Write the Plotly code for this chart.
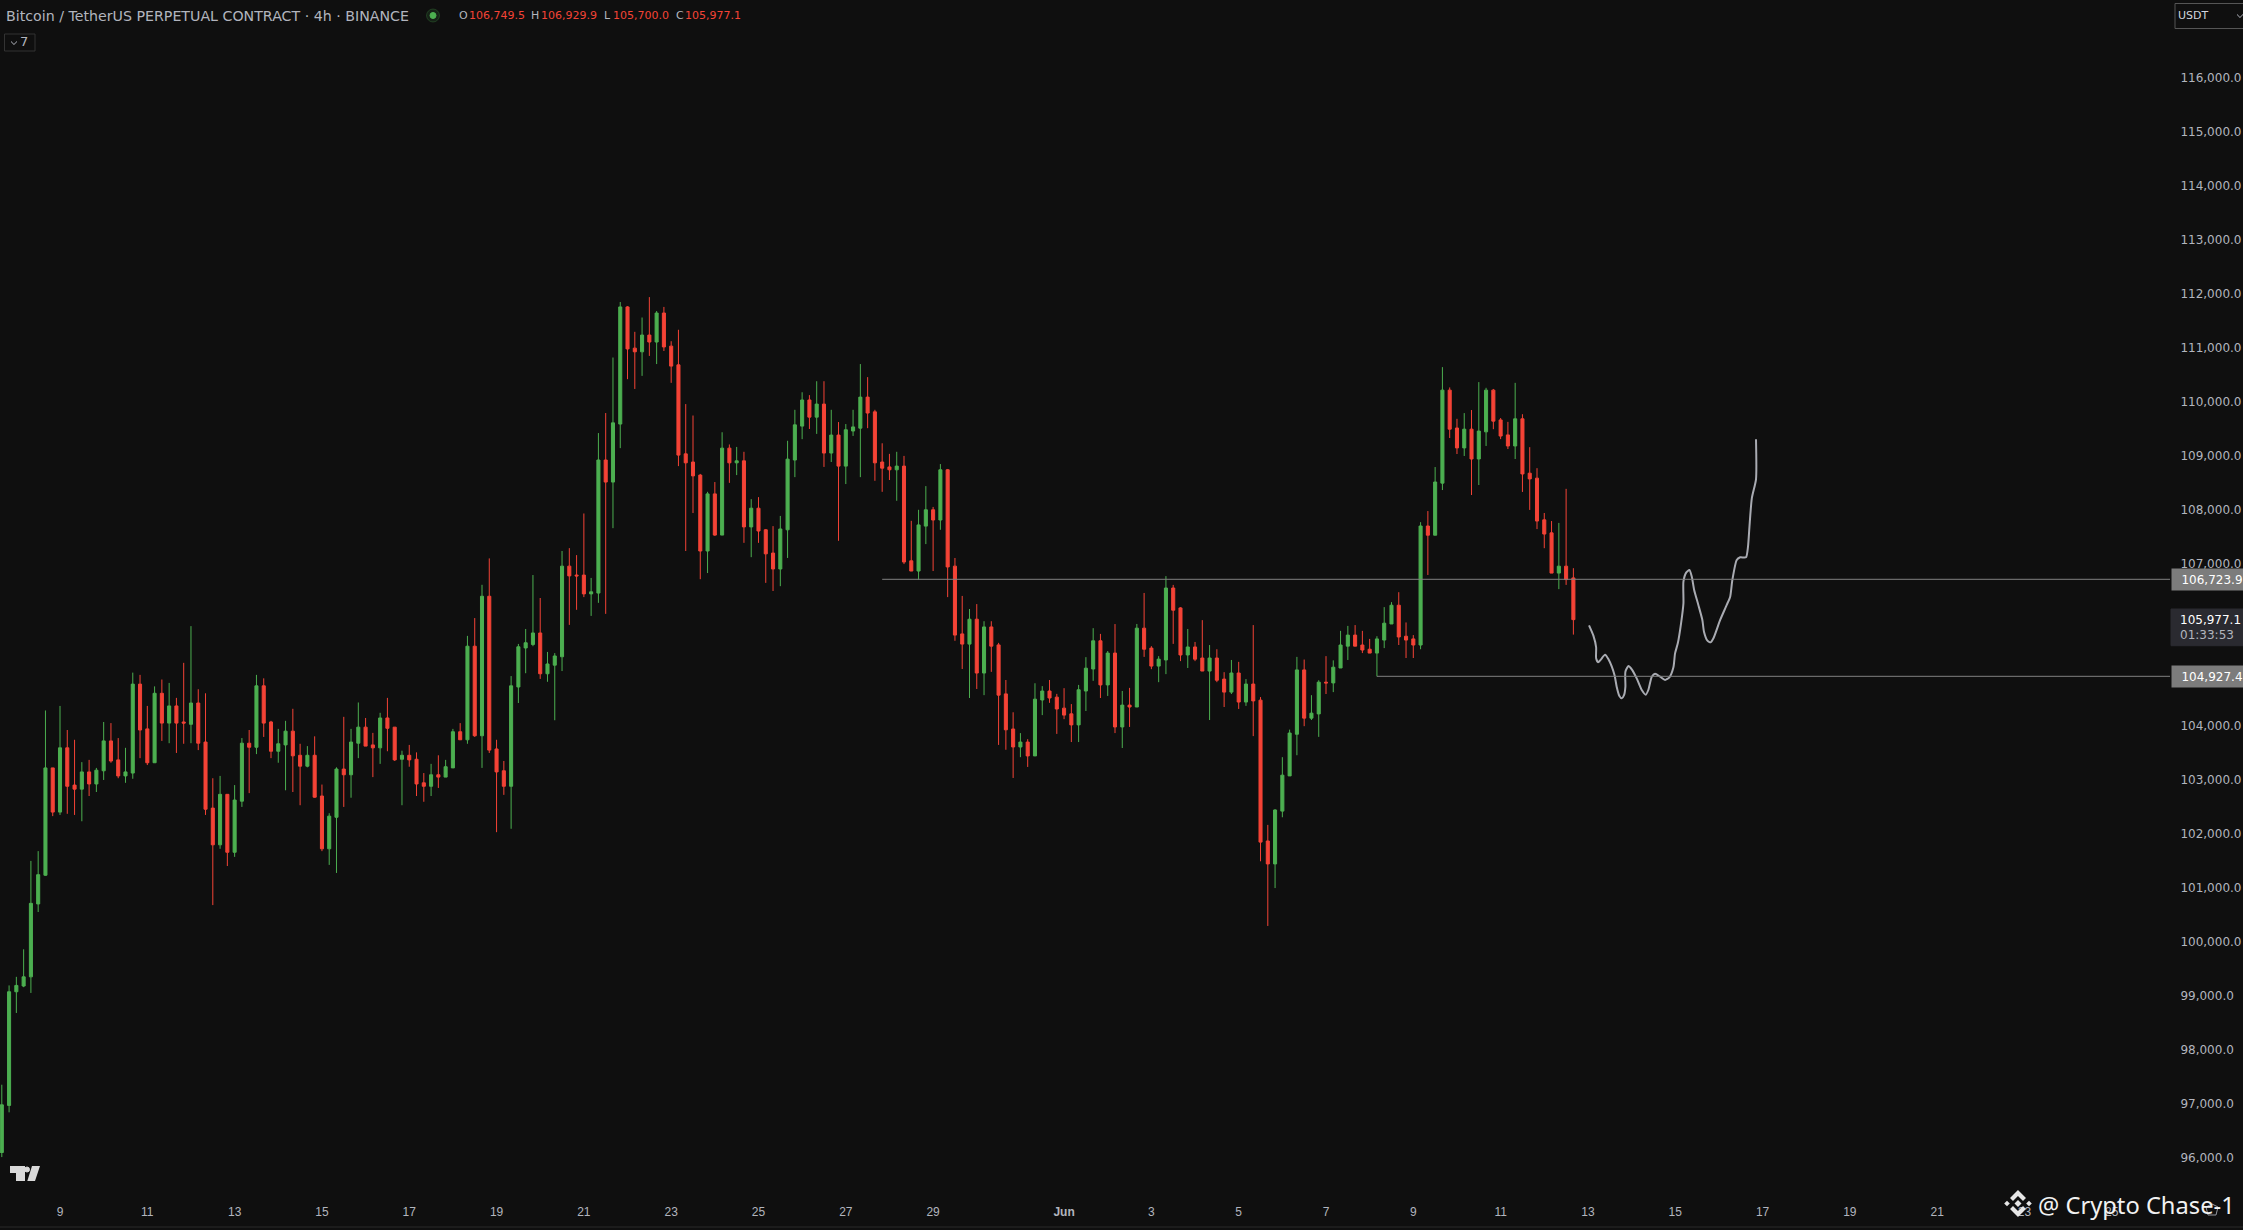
import pandas as pd
import plotly.graph_objects as go

FIRST_CANDLE = "2025-05-07 16:00"

open_ = [96109,96981,99086,99192,99362,100712,101244,103231,102413,103603,102913,102838,103157,102934,103178,103731,103380,103083,103136,104783,
103954,103327,104613,104061,104379,104082,104039,104433,103710,102487,101807,102742,101669,102615,103689,103614,104751,104082,103540,103657,
103912,103465,103263,103465,102711,101733,102317,103210,103104,103689,103986,103657,103603,104156,103986,103391,103465,103391,102955,102891,
103104,103061,103231,103901,103752,105485,103827,106410,103582,103178,102891,104730,105453,105517,105730,104975,105134,105290,106968,106802,
106802,106454,106469,108933,108525,109599,111768,111005,110937,111247,111118,111655,111042,110695,109047,108896,108654,107248,108306,107543,
109153,108881,108918,107694,108041,107641,107210,106915,107641,108933,109561,110045,109727,109969,109062,109395,108820,109470,109523,110098,
109825,108896,108805,108752,108820,107066,106877,107709,108011,107822,108752,106968,105713,105524,105985,104988,105842,105509,104602,103952,
103619,103710,103453,104489,104655,104542,104338,104232,104028,104655,105063,105585,104768,105358,103990,104394,104359,105819,105450,105117,
105230,106563,106194,105323,105471,105266,105025,105266,104876,104635,104989,104451,104784,104486,101878,101453,102431,103083,103855,105046,
104153,104231,104819,104805,105082,105486,105691,105507,105429,105358,105599,105897,106244,105670,105620,105507,107711,107541,108505,110227,
109526,109157,109504,108952,109455,110227,109675,109398,109193,109696,108689,108597,107825,107584,106839,106967,106749.5]
high = [97364,99203,99362,99872,101509,101690,104295,103231,104379,103933,103752,103338,103380,103231,104082,104061,103784,103603,104996,104954,
104379,104741,104868,104805,104528,105177,105857,104688,104613,103040,103083,102742,102913,103784,103933,104954,104890,104103,103954,104103,
104326,103678,103635,103816,102923,102392,103242,104177,103954,104443,104156,103880,104252,104528,103986,103550,103657,103519,103136,103306,
103465,103380,103954,104061,105676,106006,106622,107111,103752,103359,104932,105527,105804,106803,106378,105379,105357,107248,107301,107172,
107943,106749,109432,109803,110831,111859,111783,111307,111572,111950,111692,111768,111133,111345,109969,109757,108676,108344,108525,109447,
109221,109175,109085,108208,108246,107656,107709,107898,109289,109863,110188,110135,110392,110392,109863,109636,109599,109863,110710,110468,
109863,109243,109047,109085,109009,107807,108011,108450,108064,108858,108767,107119,106416,106174,106265,105948,105948,105547,104859,104262,
103876,103763,104799,104746,104859,104602,104708,104413,104768,105282,105819,105713,105396,105895,104656,104713,105897,106471,105486,105301,
106783,106620,106209,105804,105564,105968,105507,105429,105004,105230,105195,104876,105876,104543,102176,102466,103430,103940,105287,105238,
104578,104855,105301,105223,105769,105861,105876,105769,105620,105670,106209,106301,106485,105925,105691,107782,107988,108803,110653,110277,
109696,109802,109859,110376,110270,110249,109710,109639,110362,109781,109171,108782,107952,107803,107768,108399,106929.9]
low = [96024,96853,98693,99171,99064,100563,101233,102338,102360,102381,102360,102243,102711,102785,103008,103327,103040,102955,103030,103412,
103284,103327,103731,103689,103508,103678,103689,103561,102360,100691,101733,101414,101584,102509,102764,103487,103805,103412,103327,102817,
102785,102540,103242,102679,101690,101435,101286,102509,102679,103412,103635,103061,103306,103540,103359,102540,103253,102711,102604,102711,
102860,103061,103231,103752,103678,103805,103231,103508,102041,102732,102104,104433,104985,105485,104879,104826,104114,105025,105880,106159,
106394,106046,106288,106084,107671,109153,110430,110249,110491,110861,110710,110952,110362,108820,107248,107951,106726,106840,107528,107543,
108510,108654,107399,107134,107399,106658,106507,106597,107119,108616,109319,109508,109417,108805,108896,107437,108488,109379,108616,109523,
108548,108344,108563,108178,107006,106877,106719,107376,106877,107641,106394,105585,105063,104526,104693,104579,105010,103657,103567,103045,
103430,103249,103453,104209,104436,103861,104134,103710,103710,104285,104844,104526,104564,103876,103600,103990,104359,105287,105060,104819,
104968,105528,105209,105082,105209,105025,104118,104819,104359,104600,104323,104380,103820,101502,100304,101006,102317,103083,103466,104004,
104118,103806,104600,104635,105082,105230,105486,105358,105358,104926,105450,105897,105507,105266,105266,105429,106804,107541,108377,109341,
109044,109008,108285,108470,109193,109504,109320,109136,108952,108342,108009,107654,107300,106839,106542,106620,105700.0]
close = [96992,99086,99203,99362,100723,101254,103231,102413,103603,102891,102838,103157,102934,103189,103731,103359,103083,103157,104783,103933,
103327,104613,104061,104379,104061,104061,104433,103689,102466,101807,102742,101669,102636,103689,103614,104751,104061,103540,103678,103912,
103455,103263,103465,102689,101733,102338,103210,103104,103710,103986,103635,103603,104156,103965,103380,103465,103380,102934,102891,103104,
103061,103253,103901,103752,105485,103827,106410,103561,103157,102891,104751,105474,105549,105730,104975,105156,105304,106968,106787,106787,
106454,106492,108933,108525,109621,111768,110990,110937,111247,111118,111655,111027,110672,109024,108881,108639,107248,108306,107543,109153,
108881,108918,107694,108041,107618,107195,106915,107656,108949,109584,110045,109727,109969,109062,109395,108820,109493,109546,110098,109803,
108881,108782,108752,108820,107044,106877,107731,108011,107822,108752,106953,105691,105524,105985,104988,105842,105486,104579,103937,103619,
103710,103453,104504,104655,104526,104322,104209,104028,104678,105078,105585,104768,105358,103990,104394,104359,105819,105429,105117,105245,
106563,106152,105323,105471,105245,105025,105266,104855,104635,104989,104451,104784,104472,101857,101453,102452,103097,103877,105046,104153,
104245,104819,104805,105096,105507,105691,105486,105415,105358,105620,105911,106244,105656,105599,105507,107711,107541,108526,110227,109504,
109157,109504,108952,109469,110227,109653,109377,109193,109696,108675,108583,107803,107562,106839,106967,106719,105977.1]

day_ticks = ["2025-05-09","2025-05-11","2025-05-13","2025-05-15","2025-05-17","2025-05-19","2025-05-21","2025-05-23","2025-05-25","2025-05-27","2025-05-29",
             "2025-06-01","2025-06-03","2025-06-05","2025-06-07","2025-06-09","2025-06-11","2025-06-13","2025-06-15","2025-06-17","2025-06-19","2025-06-21","2025-06-23","2025-06-25"]
day_labels = ["9","11","13","15","17","19","21","23","25","27","29","<b>Jun</b>","3","5","7","9","11","13","15","17","19","21","23","25"]
price_ticks = [96000,97000,98000,99000,100000,101000,102000,103000,104000,107000,108000,109000,110000,111000,112000,113000,114000,115000,116000]

sketch_hours = [872.6,875.0,876.5,876.5,877.6,879.2,881.4,883.3,886.6,887.8,889.3,890.6,891.9,892.6,892.6,894.3,896.1,898.8,901.6,903.8,905.2,907.1,908.9,911.7,914.4,916.8,919.0,919.9,921.4,923.2,924.5,924.5,926.0,927.8,929.1,930.4,932.7,934.9,935.8,937.7,939.5,941.0,944.7,948.3,950.2,951.4,953.8,955.7,958.9,960.0,960.8,962.1,964.4,964.4]
sketch_price = [105872,105681,105465,105261,105187,105242,105329,105242,104952,104736,104563,104520,104582,104736,105014,105119,105057,104890,104674,104588,104674,104921,104977,104921,104860,104909,105094,105353,105539,105909,106279,106681,106847,106897,106773,106526,106249,105971,105755,105588,105557,105631,105971,106249,106403,106712,107082,107131,107131,107329,107699,108224,108576,109317]

level_upper = 106723.9
level_lower = 104927.4
level_upper_start = 121
level_lower_start = 189

UP, DOWN, BG = "#4CAF50", "#F44336", "#0F0F0F"
TXT = "#B2B5BE"
PLOT_W, PLOT_H = 2170, 1195

n = len(close)
start = pd.Timestamp(FIRST_CANDLE)
times = [start + pd.Timedelta(hours=4 * i) for i in range(n)]
x_end = start + pd.Timedelta(hours=1192)
x_begin = start - pd.Timedelta(hours=0.99)


def px(x):
    return x / PLOT_W


def py(y):
    return 1 - y / PLOT_H


def ppath(*cmds):
    out = []
    for c in cmds:
        if isinstance(c, str):
            out.append(c)
        else:
            out.append(f"{px(c[0]):.5f},{py(c[1]):.5f}")
    return " ".join(out)


fig = go.Figure()
fig.add_trace(go.Candlestick(
    x=times, open=open_, high=high, low=low, close=close,
    increasing=dict(line=dict(color=UP, width=1), fillcolor=UP),
    decreasing=dict(line=dict(color=DOWN, width=1), fillcolor=DOWN),
    whiskerwidth=0, hoverinfo="skip", showlegend=False,
))
fig.add_trace(go.Scatter(
    x=[start + pd.Timedelta(hours=h) for h in sketch_hours], y=sketch_price, mode="lines",
    line=dict(color="#A9ABB2", width=2, shape="spline", smoothing=0.6), hoverinfo="skip", showlegend=False,
))
for lvl, first in ((level_upper, level_upper_start), (level_lower, level_lower_start)):
    fig.add_trace(go.Scatter(
        x=[times[first], x_end], y=[lvl, lvl], mode="lines",
        line=dict(color="#808080", width=1), hoverinfo="skip", showlegend=False,
    ))

annotations = []


def label(x, y, text, color=TXT, size=12, family="DejaVu Sans", anchor="left"):
    annotations.append(dict(xref="paper", yref="paper", x=px(x), y=py(y), text=text, showarrow=False,
                            xanchor=anchor, yanchor="middle", font=dict(color=color, size=size, family=family),
                            borderpad=0, borderwidth=0))


label(6, 15.5, "Bitcoin / TetherUS PERPETUAL CONTRACT · 4h · BINANCE", size=14.2)
for x, t, c in [(459, "O", TXT), (469, f"{open_[-1]:,.1f}", DOWN), (531, "H", TXT), (541, f"{high[-1]:,.1f}", DOWN),
                (604, "L", TXT), (613, f"{low[-1]:,.1f}", DOWN), (676, "C", TXT), (685, f"{close[-1]:,.1f}", DOWN)]:
    label(x, 15.5, t, color=c, size=11)
label(20, 41.5, "7", size=13)
label(2178, 15.5, "USDT", color="#D1D4DC", size=11)
label(2038, 1205, "@ Crypto Chase-1", color="#F2F2F2", size=23.7, family="Noto Sans")

for lvl in (level_upper, level_lower):
    annotations.append(dict(xref="paper", yref="y", x=1, y=lvl, text=f"{lvl:,.1f}", showarrow=False, xanchor="left",
                            yanchor="middle", xshift=1, width=80, height=21, align="center", bgcolor="#7C7C7C",
                            font=dict(color="#FFFFFF", size=12, family="DejaVu Sans"), borderpad=0))
label(2180, 619.5, f"{close[-1]:,.1f}", color="#FFFFFF")
label(2180, 635.5, "01:33:53")

shapes = []


def rect(x0, y0, x1, y1, line="#333333", fill=None):
    shapes.append(dict(type="rect", xref="paper", yref="paper", x0=px(x0), y0=py(y0), x1=px(x1), y1=py(y1),
                       line=dict(color=line, width=1), fillcolor=fill or "rgba(0,0,0,0)", layer="above"))


def path(d, fill="#D9D9D9"):
    shapes.append(dict(type="path", xref="paper", yref="paper", path=d, fillcolor=fill, line=dict(width=0), layer="above"))


def circle(cx, cy, r, fill, line=None):
    shapes.append(dict(type="circle", xref="paper", yref="paper", x0=px(cx - r), x1=px(cx + r), y0=py(cy + r), y1=py(cy - r),
                       fillcolor=fill, line=dict(color=line or fill, width=1), layer="above"))


rect(2171, 609, 2250, 645.7, line="#2A2A30", fill="#2A2A30")
rect(4.5, 34, 35, 51)
path(ppath("M", (11, 41), "L", (14, 44), "L", (17, 41), "L", (17, 42), "L", (14, 45), "L", (11, 42), "Z"), fill=TXT)
rect(2175, 3.5, 2250, 28.5, line="#555555")
path(ppath("M", (2237, 14), "L", (2240, 17), "L", (2243, 14), "L", (2243, 15), "L", (2240, 18), "L", (2237, 15), "Z"), fill=TXT)
circle(433, 15.5, 6.5, "rgba(76,175,80,0.12)", "rgba(76,175,80,0.25)")
circle(433, 15.5, 3, UP)

# TradingView mark
path(ppath("M", (10, 1166), "L", (25, 1166), "L", (25, 1181), "L", (16, 1181), "L", (16, 1173), "L", (10, 1173), "Z"))
circle(27, 1169.5, 2.5, "#D9D9D9")
path(ppath("M", (32, 1166), "L", (40, 1166), "L", (35, 1181), "L", (27.3, 1181), "Z"))

# watermark mark
C = "#E6E6E6"
path(ppath("M", (2018, 1190), "L", (2026, 1198), "L", (2023, 1201), "L", (2018, 1196), "L", (2013, 1201), "L", (2010, 1198), "Z"), C)
path(ppath("M", (2018, 1217), "L", (2026, 1209), "L", (2023, 1206), "L", (2018, 1211), "L", (2013, 1206), "L", (2010, 1209), "Z"), C)
for cx, r in ((2007, 2.8), (2029, 2.8), (2018, 3.5)):
    path(ppath("M", (cx, 1203.5 - r), "L", (cx + r, 1203.5), "L", (cx, 1203.5 + r), "L", (cx - r, 1203.5), "Z"), C)

# bottom rule of the time scale, settings mark
shapes.append(dict(type="line", xref="paper", yref="paper", x0=0, x1=px(2243), y0=py(1227), y1=py(1227),
                   line=dict(color="#2A2A2A", width=1), layer="above"))
path(ppath("M", (2206, 1207), "L", (2212, 1204), "L", (2218, 1207), "L", (2216, 1215), "L", (2208, 1215), "Z"), "rgba(0,0,0,0)")
shapes[-1]["line"] = dict(color="#9598A1", width=1)

fig.update_layout(
    width=2243, height=1230, margin=dict(l=0, r=2243 - PLOT_W, t=0, b=1230 - PLOT_H, autoexpand=False),
    paper_bgcolor=BG, plot_bgcolor=BG, boxgap=0.4, showlegend=False, hovermode=False,
    annotations=annotations, shapes=shapes,
    xaxis=dict(type="date", range=[x_begin, x_end], rangeslider=dict(visible=False), showgrid=False, zeroline=False,
               showline=False, tickmode="array", tickvals=day_ticks, ticktext=day_labels, ticks="outside", ticklen=6,
               tickcolor=BG, tickfont=dict(color=TXT, size=12, family="Liberation Sans"), tickangle=0, fixedrange=True),
    yaxis=dict(side="right", range=[95322, 117452], showgrid=False, zeroline=False, showline=False, tickmode="array",
               tickvals=price_ticks, ticktext=[f"{v:,.1f}" for v in price_ticks], ticks="outside", ticklen=7,
               ticklabelshift=-1, tickcolor=BG, tickfont=dict(color=TXT, size=12, family="DejaVu Sans"), fixedrange=True),
)

fig.write_html("out.html", config=dict(displayModeBar=False),
               post_script="document.body.style.margin='0';document.body.style.background='#0F0F0F';document.body.style.overflow='hidden';")
